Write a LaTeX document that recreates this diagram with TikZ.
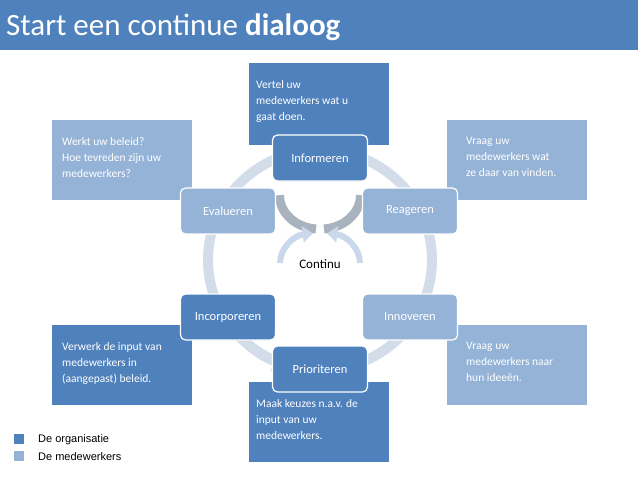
\documentclass[tikz,border=0pt]{standalone}
\usepackage{fontspec}
\setmainfont{Carlito}
\newfontfamily\legfont{Liberation Sans}
\usetikzlibrary{arrows.meta}
\definecolor{dk}{HTML}{4F81BD}
\definecolor{lt}{HTML}{95B3D7}
\definecolor{ring}{HTML}{D3DDEA}
\definecolor{gr}{HTML}{A9B3BE}
\definecolor{pb}{HTML}{C9D8EA}
\begin{document}
\begin{tikzpicture}[x=1pt,y=-1pt,
  step box/.style={draw=white,line width=1.2pt,rounded corners=5pt,minimum width=95pt,minimum height=46pt,text=white,font=\fontsize{12.5}{15}\selectfont},
  info box/.style={anchor=north west,minimum width=140pt,minimum height=80pt,text=white,align=left,text width=128pt,inner xsep=6pt,inner ysep=0pt,font=\fontsize{11.5}{16}\selectfont},
  txt/.style={anchor=north west,inner sep=0pt,text=white,align=left,font=\fontsize{11.5}{16}\selectfont}]
\useasboundingbox (0,0) rectangle (638,479);
\fill[white] (0,0) rectangle (638,479);
\fill[dk] (0,0) rectangle (638,50);
\node[anchor=west,text=white,font=\fontsize{31}{36}\selectfont,inner sep=0pt] (title) at (6,27) {Start een continue \textbf{dialoog}};
% info boxes
\fill[dk] (249,63) rectangle (389,145);
\node[txt] (t1) at (256,80) {Vertel uw\\medewerkers wat u\\gaat doen.};
\fill[lt] (447,120) rectangle (587,200);
\node[txt] (t2) at (466,137) {Vraag uw\\medewerkers wat\\ze daar van vinden.};
\fill[lt] (52,120) rectangle (192,200);
\node[txt] (t3) at (62,137) {Werkt uw beleid?\\Hoe tevreden zijn uw\\medewerkers?};
\fill[dk] (52,325) rectangle (192,405);
\node[txt] (t4) at (62,342) {Verwerk de input van\\medewerkers in\\(aangepast) beleid.};
\fill[lt] (447,325) rectangle (587,405);
\node[txt] (t5) at (466,342) {Vraag uw\\medewerkers naar\\hun idee\"en.};
\fill[dk] (249,382) rectangle (389,462);
\node[txt] (t6) at (256,399) {Maak keuzes n.a.v. de\\input van uw\\medewerkers.};
% ring
\draw[ring,line width=10pt] (320,260) ellipse (112 and 110);
\draw[ring,line width=10pt,-{Triangle[width=22pt,length=12pt]}] (320,260) ++(140:112 and 110) arc[start angle=140,end angle=108,x radius=112,y radius=110];
% center arrows
\draw[gr,line width=9pt] (316,229) arc[start angle=95,end angle=180,x radius=40,y radius=34];
\draw[gr,line width=9pt] (324,229) arc[start angle=85,end angle=0,x radius=40,y radius=34];
\draw[pb,line width=6pt,-{Triangle[width=16pt,length=10pt]}] (280,263) arc[start angle=180,end angle=262,x radius=38,y radius=30];
\draw[pb,line width=6pt,-{Triangle[width=16pt,length=10pt]}] (360,263) arc[start angle=0,end angle=-82,x radius=38,y radius=30];
\node[font=\fontsize{13}{15}\selectfont] (c) at (320,264) {Continu};
% steps
\node[step box,fill=dk] (inf) at (320,158) {Informeren};
\node[step box,fill=lt] (rea) at (410,211) {Reageren};
\node[step box,fill=lt] (inn) at (410,317) {Innoveren};
\node[step box,fill=dk] (pri) at (320,369) {Prioriteren};
\node[step box,fill=dk] (inc) at (228,317) {Incorporeren};
\node[step box,fill=lt] (eva) at (228,211) {Evalueren};
% legend
\fill[dk] (14,434) rectangle (24,444);
\fill[lt] (14,451) rectangle (24,461);
\node[anchor=west,font=\legfont\fontsize{11}{13}\selectfont,inner sep=0pt] (l1) at (38,440) {De organisatie};
\node[anchor=west,font=\legfont\fontsize{11}{13}\selectfont,inner sep=0pt] (l2) at (38,457) {De medewerkers};
\end{tikzpicture}
\end{document}
